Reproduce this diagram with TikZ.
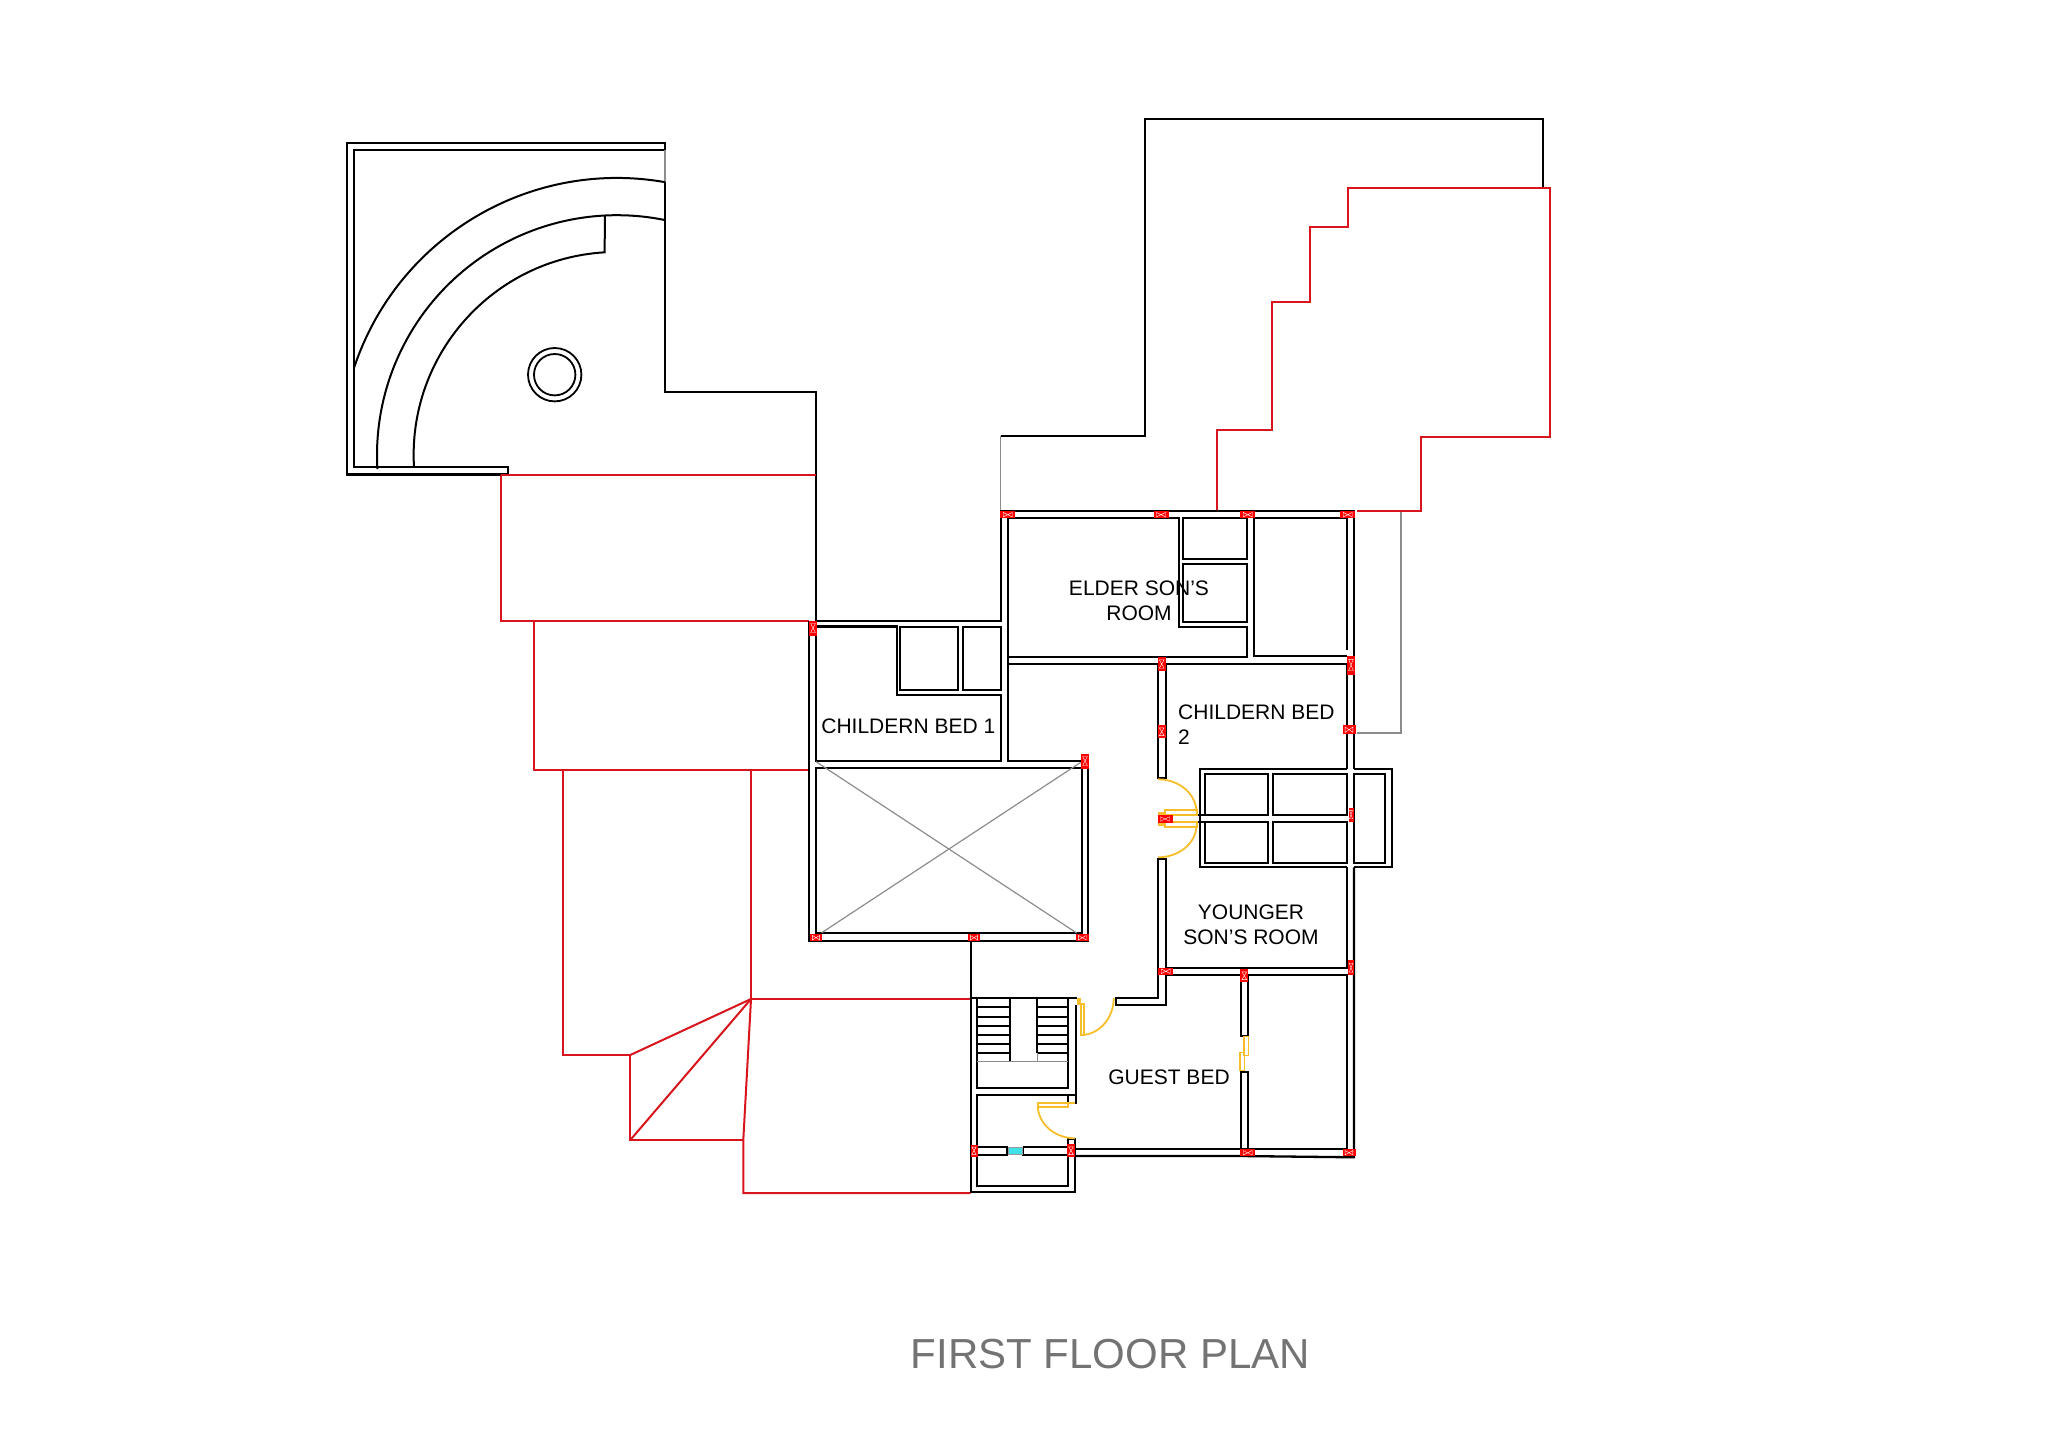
\documentclass[tikz,border=0pt]{standalone}
\usepackage{fontspec}
\setmainfont{Liberation Sans}
\usetikzlibrary{positioning, calc}
\definecolor{roofred}{HTML}{D8141C}
\definecolor{doorgold}{HTML}{F5BE2A}
\definecolor{glasscyan}{HTML}{3FE0E8}
\definecolor{titlegrey}{HTML}{737373}
\newcommand{\colin}[2]{($(path picture bounding box.#1)!.2!(path picture bounding box.#2)$)}
\tikzset{
	wall/.style={black, line width=2.3pt, line join=miter},
	stepline/.style={black, line width=1.8pt},
	roof/.style={roofred, line width=2pt, line join=miter},
	thin grey/.style={black!45, line width=1.2pt},
	door/.style={doorgold, line width=1.8pt},
	room/.style={inner sep=0pt, align=center, font=\fontsize{21}{25}\selectfont},
	colh/.style={rectangle, fill=red, inner sep=0pt, minimum width=15pt, minimum height=7.5pt,
		path picture={\draw[white, line width=.4pt] \colin{north west}{south east} -- \colin{south east}{north west} -- \colin{north east}{south west} -- \colin{south west}{north east} -- cycle;}},
	colv/.style={rectangle, fill=red, inner sep=0pt, minimum width=8pt, minimum height=14pt,
		path picture={\draw[white, line width=.4pt] \colin{north west}{south east} -- \colin{north east}{south west} -- \colin{south west}{north east} -- \colin{south east}{north west} -- cycle;}}
}
\begin{document}
\begin{tikzpicture}[x=1pt, y=1pt, yscale=-1]
	\useasboundingbox (0,0) rectangle (2048,1447);

	% sit-out and roof outline
	\draw[wall] (665,143) -- (347,143) -- (347,474.5) -- (508,474.5) -- (508,467) -- (354,467) -- (354,150) -- (665,150) -- cycle;
	\draw[thin grey] (665,150) -- (665,182);
	\draw[wall] (665,182) -- (665,392) -- (816,392) -- (816,621);
	\draw[wall, line width=2pt] (354,368) arc[start angle=198.3, end angle=280, radius=277];
	\draw[wall, line width=2pt] (377.4,469) arc[start angle=176.7, end angle=281.5, radius=240];
	\draw[wall, line width=2pt] (414,467) arc[start angle=176.6, end angle=266.6, radius=203] -- (605,215.4);
	\draw[wall, line width=1.8pt] (554.7,374.7) circle[radius=26.7];
	\draw[wall, line width=1.8pt] (554.7,374.7) circle[radius=20.7];
	\draw[thin grey] (1000.7,436) -- (1000.7,510.7);
	\draw[wall] (1000.7,436) -- (1145,436) -- (1145,119) -- (1543,119) -- (1543,188.3);
	\draw[thin grey] (1357,733) -- (1401,733) -- (1401,510.7);

	% red roof lines
	\draw[roof] (501,474.5) -- (816,474.5);
	\draw[roof] (501,474.5) -- (501,621) -- (809,621);
	\draw[roof] (534,621) -- (534,769.7) -- (809,769.7);
	\draw[roof] (562.7,769.7) -- (562.7,1055) -- (630.3,1055) -- (630.3,1140) -- (743.3,1140);
	\draw[roof] (751,769.7) -- (751,999) -- (970.7,999);
	\draw[roof] (630.3,1055) -- (751,999) -- (743.3,1140) -- (743.3,1193) -- (970.7,1193);
	\draw[roof] (630.3,1140) -- (751,999);
	\draw[roof] (1217,510.7) -- (1217,430) -- (1272,430) -- (1272,302.5) -- (1310,302.5) -- (1310,227) -- (1348,227) -- (1348,188.5) -- (1550,188.5) -- (1550,437) -- (1421,437) -- (1421,510.7) -- (1357,510.7);

	% children bed 1 and void
	\draw[wall] (809,621) -- (809,941) -- (1088.3,941) -- (1088.3,754);
	\draw[wall] (816,621) -- (1000.7,621) -- (1000.7,510.7) -- (1354,510.7) -- (1354,769.3);
	\draw[wall] (816,626.5) -- (896.7,626.5) -- (896.7,695) -- (1001,695) -- (1001,761) -- (816,761) -- cycle;
	\draw[wall] (900.3,626.7) rectangle (958.3,690);
	\draw[wall] (962.7,626.7) rectangle (1001,690);
	\draw[wall] (816,767.7) rectangle (1081.7,933.3);
	\draw[thin grey] (816,761.7) -- (1076.7,933);
	\draw[thin grey] (821.7,932.7) -- (1081.7,761.7);

	% elder son's room
	\draw[wall] (1085,761) -- (1007.7,761) -- (1007.7,664.3) -- (1348,664.3);
	\draw[wall] (1007.7,664.3) -- (1007.7,518) -- (1179.3,518) -- (1179.3,626.7) -- (1246.7,626.7) -- (1246.7,656.7) -- (1007.7,656.7);
	\draw[wall] (1183.3,518) rectangle (1247.3,559);
	\draw[wall] (1183.3,564) rectangle (1246.7,622.3);
	\draw[wall] (1347,650) -- (1347,518) -- (1254,518) -- (1254,656) -- (1347,656);
	\draw[wall] (1347,664.3) -- (1347,769.3);
	\draw[wall] (1158.3,664.3) -- (1158.3,778) -- (1166,778) -- (1166,664.3);

	% wardrobes
	\draw[wall] (1347,769.3) -- (1200,769.3) -- (1200,867.3) -- (1347,867.3);
	\draw[wall] (1354,769.3) -- (1391.7,769.3) -- (1391.7,867.3) -- (1354,867.3);
	\draw[wall] (1204.7,774) rectangle (1268.3,815);
	\draw[wall] (1272.7,774) rectangle (1347,815);
	\draw[wall] (1204.7,822.3) rectangle (1268.3,863.3);
	\draw[wall] (1272.7,822.3) rectangle (1347,863.3);
	\draw[wall] (1354,774) rectangle (1385,863.3);
	\draw[wall] (1173,815) -- (1204.7,815);
	\draw[wall] (1173,822.3) -- (1204.7,822.3);

	% younger son's room and guest bed
	\draw[wall] (1347,867.3) -- (1347,968) -- (1166,968) -- (1166,859.3) -- (1158.3,859.3) -- (1158.3,998.3) -- (1115.7,998.3) -- (1115.7,1005.3) -- (1165.7,1005.3) -- (1165.7,975) -- (1347,975) -- (1347,1149);
	\draw[wall] (1354,867.3) -- (1354,1157.3) -- (1240,1156) -- (1075,1156);
	\draw[wall] (1240.7,975) -- (1240.7,1035.7) -- (1248,1035.7) -- (1248,975);
	\draw[wall] (1240.7,1149) -- (1240.7,1071.7) -- (1248,1071.7) -- (1248,1149);
	\draw[wall] (1075,1149) -- (1347,1149);

	% stair block
	\draw[wall] (970.7,941) -- (970.7,1192.3) -- (1075,1192.3) -- (1075,1139.3) -- (1067.7,1139.3) -- (1067.7,1185.7) -- (977.3,1185.7) -- (977.3,1155) -- (1006.7,1155) -- (1006.7,1147.3) -- (977.3,1147.3) -- (977.3,1095);
	\draw[wall] (1023.3,1147.3) -- (1067.7,1147.3);
	\draw[wall] (1023.3,1147.3) -- (1023.3,1155) -- (1067.7,1155);
	\draw[wall] (970.7,998.3) -- (1077.3,998.3);
	\draw[wall] (977.3,998.3) rectangle (1067.7,1088.3);
	\draw[wall] (976,1095) -- (1075.7,1095) -- (1075.7,1005);
	\draw[wall] (1067.7,1095) -- (1067.7,1102.7) -- (1075.7,1102.7) -- (1075.7,1095);
	\draw[stepline] (1010,998.3) -- (1010,1061.7);
	\draw[stepline] (1037.3,998.3) -- (1037.3,1052.7);
	\foreach \y in {1007.3, 1016.7, 1025.7, 1034.7, 1043.7, 1052.7}
		\draw[stepline] (977.3,\y) -- (1010,\y) (1037.3,\y) -- (1067.7,\y);
	\draw[thin grey] (977.3,1061.7) -- (1067.7,1061.7);
	\draw[thin grey] (1037.3,1052.7) -- (1037.3,1061.7);
	\draw[fill=glasscyan, draw=black!40, line width=1pt] (1008.3,1147.8) rectangle (1022.3,1154.4);

	% doors
	\fill[doorgold] (1157.5,811.7) rectangle (1165,826);
	\draw[door] (1165,810) rectangle (1196.7,815);
	\draw[door] (1165,822.3) rectangle (1196.7,827.3);
	\draw[door] (1158,779.3) arc[start angle=270, end angle=360, x radius=38.5, y radius=33];
	\draw[door] (1196.5,825) arc[start angle=0, end angle=90, x radius=38.5, y radius=32.3];
	\fill[doorgold] (1076.7,997.7) rectangle (1080.7,1005);
	\draw[door] (1080.7,1004.3) rectangle (1084,1035);
	\draw[door] (1080.7,1035) arc[start angle=90, end angle=0, x radius=33, y radius=37];
	\draw[door] (1037.7,1103.3) rectangle (1068,1106.7);
	\draw[door] (1068,1103.3) -- (1075,1103.3);
	\draw[door] (1037.7,1105) arc[start angle=180, end angle=90, x radius=37.3, y radius=33.3];
	\draw[door, line width=1.3pt] (1244,1036.7) rectangle (1248.3,1055.7);
	\draw[door, line width=1.3pt] (1240,1052.3) rectangle (1244.7,1070.7);

	% columns
	\node[colh] (c1) at (1007.7,514.7) {};
	\node[colh] (c2) at (1161,514.7) {};
	\node[colh] (c3) at (1247.7,514.7) {};
	\node[colh] (c4) at (1347.7,514.7) {};
	\node[colv] (c5) at (1161.7,664) {};
	\node[colv, minimum height=19pt] (c6) at (1351,665) {};
	\node[colv, minimum height=13pt] (c7) at (1161.7,731.7) {};
	\node[colh, minimum width=13pt, minimum height=9pt] (c8) at (1349,729.7) {};
	\node[colv, minimum height=15pt] (c9) at (1085,761) {};
	\node[colv, minimum height=15pt] (c10) at (813,628) {};
	\node[colh, minimum width=12pt] (c11) at (816,937.7) {};
	\node[colh, minimum width=12pt] (c12) at (974,937.7) {};
	\node[colh, minimum width=13pt] (c13) at (1082.3,937.7) {};
	\node[colh] (c14) at (1165,819) {};
	\node[colv, minimum width=5pt, minimum height=14pt] (c15) at (1351,814.5) {};
	\node[colh] (c16) at (1165.7,971.3) {};
	\node[colv, minimum height=13pt] (c17) at (1244.3,975.7) {};
	\node[colv, minimum width=6pt, minimum height=15pt] (c18) at (1351,967.7) {};
	\node[colv, minimum width=7pt, minimum height=12pt] (c19) at (974,1150.7) {};
	\node[colv, minimum height=13pt] (c20) at (1071,1150.7) {};
	\node[colh] (c21) at (1247.7,1152.7) {};
	\node[colh, minimum width=13pt] (c22) at (1349,1152.7) {};

	% labels
	\node[room] (elder) at (1139,600.3) {ELDER SON'S\\ROOM};
	\node[room, align=left, anchor=west] (bed2) at (1178,724.3) {CHILDERN BED\\2};
	\node[room] (bed1) at (908.3,726.3) {CHILDERN BED 1};
	\node[room] (younger) at (1251,924.3) {YOUNGER\\SON'S ROOM};
	\node[room] (guest) at (1169,1077.3) {GUEST BED};
	\node[inner sep=0pt, text=titlegrey, font=\fontsize{42}{50}\selectfont] (title) at (1110.5,1354.3) {FIRST FLOOR PLAN};
\end{tikzpicture}
\end{document}
